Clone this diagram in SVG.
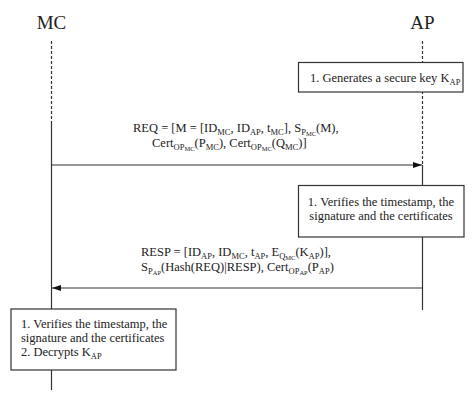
<svg xmlns="http://www.w3.org/2000/svg" width="474" height="401" viewBox="0 0 474 401">
<defs>
<style>
text{font-family:"Liberation Serif","Times New Roman",serif;fill:#222;font-size:12.5px}
.title{font-size:19px}
.s{font-size:8.5px}
.ss{font-size:6.5px}
.dash{stroke:#333;stroke-width:1.2;stroke-dasharray:3,2;fill:none}
.solid{stroke:#333;stroke-width:1.2;fill:none}
.box{fill:#fff;stroke:#333;stroke-width:1.2}
.msg{stroke:#333;stroke-width:1.2;fill:none}
</style>
<marker id="ah" markerWidth="10" markerHeight="8" refX="9" refY="4" orient="auto" markerUnits="userSpaceOnUse">
<path d="M0,1 L9,4 L0,7 Z" fill="#111"/>
</marker>
</defs>
<rect width="474" height="401" fill="#fff"/>

<g id="MC">
<text class="title" x="51.5" y="29" text-anchor="middle">MC</text>
<line class="dash" x1="51.5" y1="41" x2="51.5" y2="122"/>
<line class="solid" x1="51.5" y1="122" x2="51.5" y2="390"/>
</g>
<g id="AP">
<text class="title" x="422.5" y="29" text-anchor="middle">AP</text>
<line class="dash" x1="422.5" y1="41" x2="422.5" y2="165"/>
<line class="solid" x1="422.5" y1="165" x2="422.5" y2="310"/>
</g>

<g id="connectors">
<line class="msg" x1="51.5" y1="165" x2="422" y2="165" marker-end="url(#ah)"/>
<line class="msg" x1="422.5" y1="288" x2="52" y2="288" marker-end="url(#ah)"/>
</g>

<g id="req-label">
<text x="133" y="132">REQ = [M = [ID<tspan class="s" dy="2.5">MC</tspan><tspan dy="-2.5">, ID</tspan><tspan class="s" dy="2.5">AP</tspan><tspan dy="-2.5">, t</tspan><tspan class="s" dy="2.5">MC</tspan><tspan dy="-2.5">], S</tspan><tspan class="s" dy="2.5">P</tspan><tspan class="ss" dy="1.5">MC</tspan><tspan dy="-4">(M),</tspan></text>
<text x="152" y="147">Cert<tspan class="s" dy="2.5">OP</tspan><tspan class="ss" dy="1.5">MC</tspan><tspan dy="-4">(P</tspan><tspan class="s" dy="2.5">MC</tspan><tspan dy="-2.5">), Cert</tspan><tspan class="s" dy="2.5">OP</tspan><tspan class="ss" dy="1.5">MC</tspan><tspan dy="-4">(Q</tspan><tspan class="s" dy="2.5">MC</tspan><tspan dy="-2.5">)]</tspan></text>
</g>

<g id="resp-label">
<text x="141" y="256">RESP = [ID<tspan class="s" dy="2.5">AP</tspan><tspan dy="-2.5">, ID</tspan><tspan class="s" dy="2.5">MC</tspan><tspan dy="-2.5">, t</tspan><tspan class="s" dy="2.5">AP</tspan><tspan dy="-2.5">, E</tspan><tspan class="s" dy="2.5">Q</tspan><tspan class="ss" dy="1.5">MC</tspan><tspan dy="-4">(K</tspan><tspan class="s" dy="2.5">AP</tspan><tspan dy="-2.5">)],</tspan></text>
<text x="141" y="271">S<tspan class="s" dy="2.5">P</tspan><tspan class="ss" dy="1.5">AP</tspan><tspan dy="-4">(Hash(REQ)|RESP), Cert</tspan><tspan class="s" dy="2.5">OP</tspan><tspan class="ss" dy="1.5">AP</tspan><tspan dy="-4">(P</tspan><tspan class="s" dy="2.5">AP</tspan><tspan dy="-2.5">)</tspan></text>
</g>

<g id="box-ap-key">
<rect class="box" x="298.5" y="62.5" width="164.5" height="29.5"/>
<text x="310" y="82">1. Generates a secure key K<tspan class="s" dy="2.5">AP</tspan></text>
</g>

<g id="box-ap-verify">
<rect class="box" x="298.5" y="185.5" width="165.5" height="51.5"/>
<text x="381" y="206" text-anchor="middle">1. Verifies the timestamp, the</text>
<text x="381" y="220" text-anchor="middle">signature and the certificates</text>
</g>

<g id="box-mc-verify">
<rect class="box" x="11" y="309" width="165" height="61"/>
<text x="21" y="328">1. Verifies the timestamp, the</text>
<text x="21" y="342">signature and the certificates</text>
<text x="21" y="356">2. Decrypts K<tspan class="s" dy="2.5">AP</tspan></text>
</g>
</svg>
